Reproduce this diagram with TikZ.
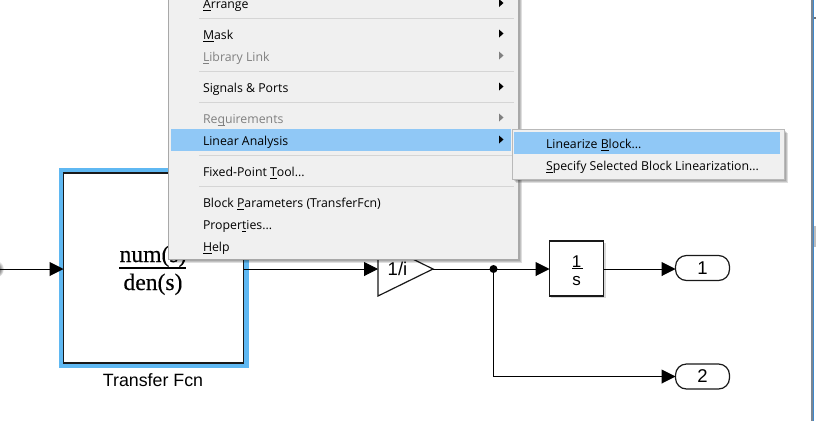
\documentclass[tikz,border=0pt]{standalone}
\usepackage{fontspec}
\usetikzlibrary{arrows.meta}
\newfontfamily\menufont{Open Sans}
\newfontfamily\blockfont{Liberation Sans}
\newfontfamily\mathfont[FakeBold=0.35]{Liberation Serif}
\newcommand\akey[1]{\setbox0\hbox{#1}\rlap{\rule[-2.6pt]{\wd0}{0.9pt}}\box0}
\definecolor{menubg}{HTML}{F0F0F0}
\definecolor{menuhi}{HTML}{90C8F6}
\definecolor{menuline}{HTML}{D5D5D5}
\definecolor{menuedge}{HTML}{A8A8A8}
\definecolor{selblue}{HTML}{5FB8F2}
\definecolor{disabled}{HTML}{808080}
\definecolor{winedge}{HTML}{7B8794}
\definecolor{winblue}{HTML}{3F88CC}
\tikzset{
  x=1pt,y=-1pt,
  wire/.style={draw=black,line width=1pt},
  arrowwire/.style={wire,-{Triangle[length=14pt,width=14pt]},shorten >=0pt},
  blockbox/.style={draw=black!90,line width=1.2pt,fill=white,inner sep=0pt,outer sep=0pt},
  portbox/.style={blockbox,rounded corners=11pt,minimum width=54pt,minimum height=25pt,font=\blockfont\fontsize{18.5}{18.5}\selectfont},
  menuitem/.style={anchor=base west,inner sep=0pt,outer sep=0pt,text=black,font=\menufont\fontsize{12.3}{14}\selectfont},
  menuoff/.style={menuitem,text=disabled},
  sepline/.style={draw=menuline,line width=1pt},
  subtip/.style={fill=black,draw=none},
  subtipoff/.style={fill=disabled,draw=none},
  softshadow/.style={fill=black,draw=none,opacity=.13},
  fractext/.style={anchor=base,inner sep=0pt,font=\mathfont\fontsize{23.6}{24}\selectfont},
  blocktext/.style={inner sep=0pt,font=\blockfont\fontsize{18.5}{18.5}\selectfont},
  inttext/.style={anchor=base,inner sep=0pt,font=\blockfont\fontsize{17}{17}\selectfont},
}
\begin{document}
\begin{tikzpicture}
\useasboundingbox (0,0) rectangle (816,421);
\clip (0,0) rectangle (816,421);
\fill[white] (0,0) rectangle (816,421);

% window edge at the right
\fill[winedge] (810.5,0) rectangle (812.5,421);
\fill[winblue] (813,0) rectangle (814.4,421);
\fill[gray!50] (814,226) rectangle (816,247);
\fill[gray!90!black] (814,16.5) rectangle (816,18.5);

% selection and transfer block
\fill[selblue] (59,168) rectangle (248.5,368);
\node[blockbox,minimum width=180pt,minimum height=190pt] (tf) at (153.5,268) {};
\node[fractext] (tfnum) at (153,262) {num(s)};
\node[fractext] (tfden) at (153,290) {den(s)};
\fill[black] (119,267.2) rectangle (186,268.9);
\node[inner sep=0pt,font=\blockfont\fontsize{17.8}{17.8}\selectfont] (tflabel) at (153,380) {Transfer Fcn};

% source port at the left edge
\shade[inner color=black,middle color=black,outer color=white] (-5,269) circle (9);
\coordinate (src) at (0,269);

% gain
\coordinate (gainin) at (378,269);
\coordinate (gaintop) at (378,242);
\coordinate (gainbot) at (378,296);
\coordinate (gainout) at (433,269);
\draw[blockbox,line join=miter] (gainin) -- (gaintop) -- (gainout) -- (gainbot) -- cycle;
\node[blocktext] (gainlabel) at (397.5,269) {1/i};

% integrator
\fill[black,opacity=.15] (550.5,242.5) rectangle (605.5,297.5);
\node[blockbox,minimum width=54pt,minimum height=55pt] (int) at (576.5,268.5) {};
\node[inttext] (intnum) at (576.5,267) {1};
\node[inttext] (intden) at (576.5,285) {s};
\fill[black] (572,268.3) rectangle (583,269.3);

% outports
\node[portbox] (outone) at (702.5,268) {1};
\node[portbox] (outtwo) at (702.5,376.5) {2};

% connectors
\coordinate (junction) at (493.5,269);
\draw[arrowwire] (src) -- (tf.west |- src);
\draw[arrowwire] (tf.east |- gainin) -- (gainin);
\draw[wire] (gainout) -- (junction);
\draw[arrowwire] (junction) -- (int.west |- junction);
\draw[arrowwire] (int.east |- junction) -- (outone.west |- junction);
\draw[arrowwire] (junction) |- (outtwo.west);
\fill[black] (junction) circle (4);

% main menu
\foreach \d in {1,2,3,4}
  \fill[softshadow] (168+\d,-5) rectangle (518+\d,259+\d);
\draw[draw=menuedge,fill=menubg,line width=1pt] (168.5,-5) rectangle (518,259);
\fill[menuhi] (171,129) rectangle (511,151);
\draw[sepline] (199,18) -- (514,18);
\draw[sepline] (199,71) -- (514,71);
\draw[sepline] (199,102) -- (514,102);
\draw[sepline] (199,155.5) -- (514,155.5);
\draw[sepline] (199,186.5) -- (514,186.5);

\node[menuitem] (mArrange) at (203,8.5) {\akey{A}rrange};
\node[menuitem] (mMask) at (203,39) {\akey{M}ask};
\node[menuoff] (mLib) at (203,61) {\akey{L}ibrary Link};
\node[menuitem] (mSig) at (203,92) {Signals \& Ports};
\node[menuoff] (mReq) at (203,123) {Re\akey{q}uirements};
\node[menuitem] (mLin) at (203,145) {Linear Analysis};
\node[menuitem] (mFix) at (203,176) {Fixed-Point \akey{T}ool...};
\node[menuitem] (mBlock) at (203,207) {Block \akey{P}arameters (TransferFcn)};
\node[menuitem] (mProp) at (203,229) {Proper\akey{t}ies...};
\node[menuitem] (mHelp) at (203,251) {\akey{H}elp};

\fill[subtip] (499,-1) -- (503.5,3) -- (499,7) -- cycle;
\fill[subtip] (499,29.5) -- (503.5,33.5) -- (499,37.5) -- cycle;
\fill[subtipoff] (499,51.5) -- (503.5,55.5) -- (499,59.5) -- cycle;
\fill[subtip] (499,82.5) -- (503.5,86.5) -- (499,90.5) -- cycle;
\fill[subtipoff] (499,113.5) -- (503.5,117.5) -- (499,121.5) -- cycle;
\fill[subtip] (499,135.5) -- (503.5,139.5) -- (499,143.5) -- cycle;

% submenu
\foreach \d in {1,2,3,4}
  \fill[softshadow] (512+\d,129+\d) rectangle (784+\d,179+\d);
\draw[draw=menuedge!80!white,fill=menubg,line width=1pt] (512,129.5) rectangle (784,179);
\fill[menuhi] (514,132) rectangle (780,154);
\node[menuitem] (sLin) at (546,148.5) {Linearize \akey{B}lock...};
\node[menuitem] (sSpec) at (546,170.5) {\akey{S}pecify Selected Block Linearization...};
\end{tikzpicture}
\end{document}
